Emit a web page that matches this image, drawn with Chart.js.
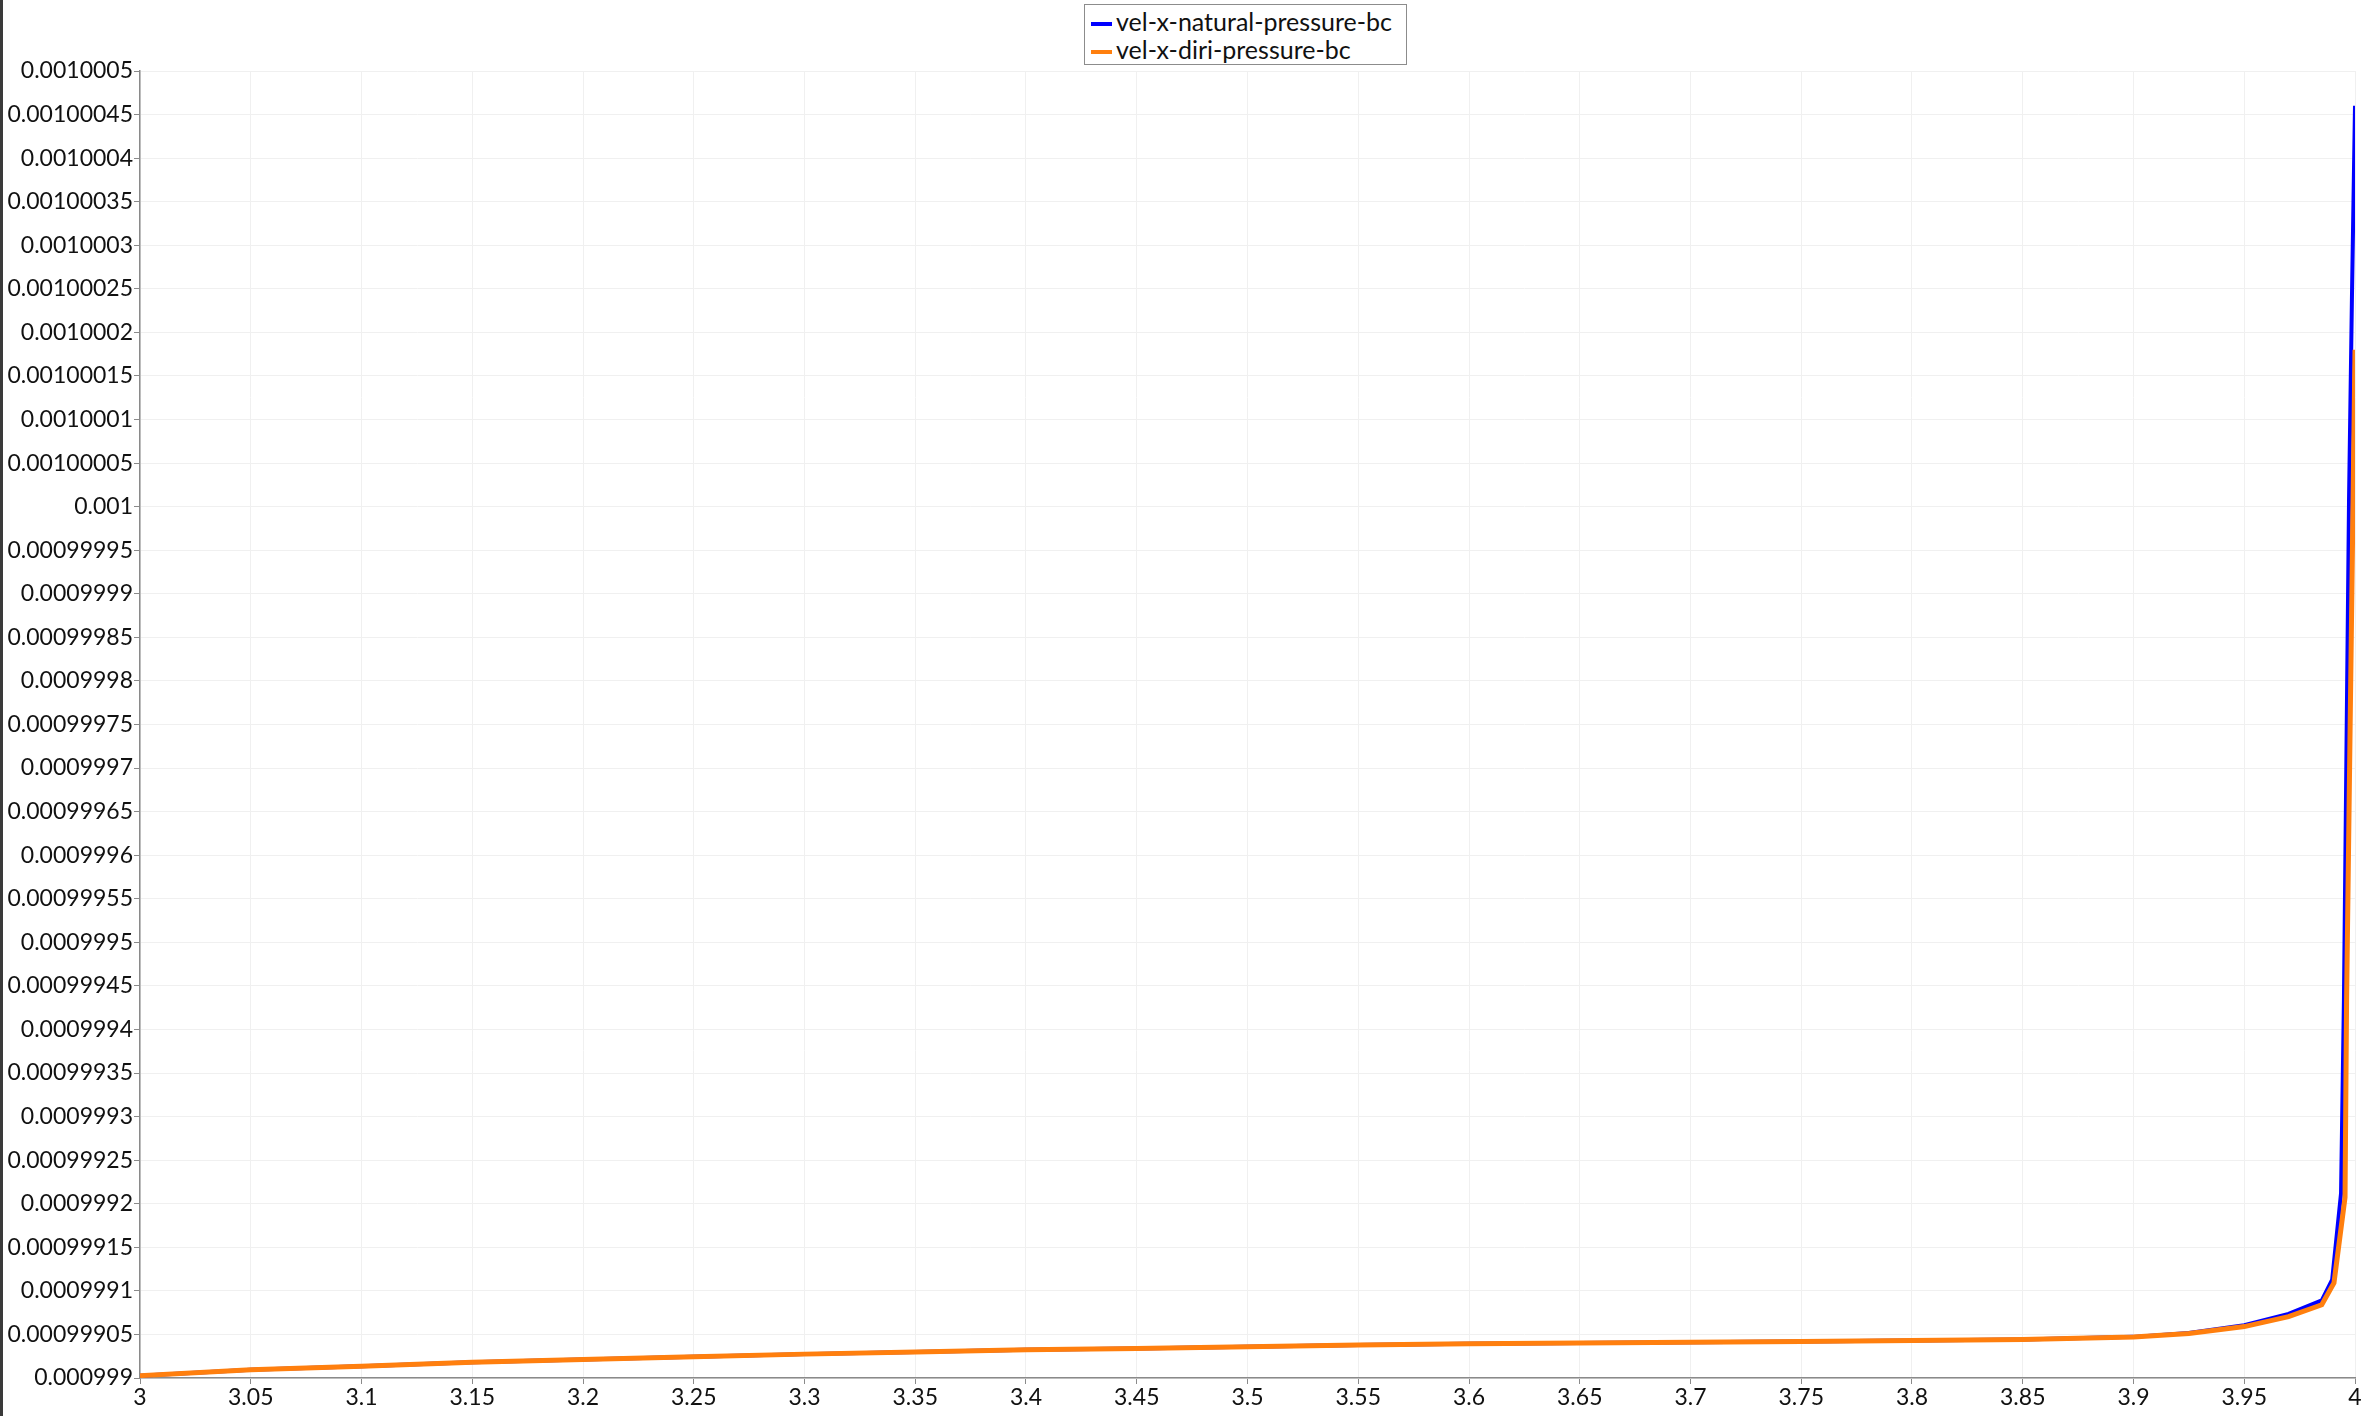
<!DOCTYPE html>
<html>
<head>
<meta charset="utf-8">
<script src="https://cdn.jsdelivr.net/npm/chart.js@4.4.1/dist/chart.umd.min.js"></script>
<style>
    html, body { margin: 0; padding: 0; background: #fff; }
    #wrap { position: relative; width: 2361px; height: 1416px; border-left: 3px solid #3a3a3a; }
    #plot { display: block; }
    #legend {
        position: absolute; left: 1081px; top: 4px; width: 321px; height: 59px;
        border: 1.5px solid #8c8c8c; background: #fff;
        font-family: Lato, 'Noto Sans', sans-serif; font-size: 25px; color: #111;
    }
    #legend .row { position: absolute; left: 6px; height: 28px; line-height: 28px; white-space: nowrap; }
    #legend .sw { display: inline-block; width: 21px; height: 4px; vertical-align: middle; margin-right: 4px; position: relative; top: -1px; }
</style>
</head>
<body>
<div id="wrap">
    <canvas id="plot" width="2361" height="1416"></canvas>
    <div id="legend"></div>
</div>
<script>
(() => {
    // ===== Datos =====
    const seriesNames = ['vel-x-natural-pressure-bc', 'vel-x-diri-pressure-bc'];
    const seriesColors = ['#0000ff', '#ff7f0e'];

    const naturalX = [3.0, 3.05, 3.1, 3.15, 3.2, 3.25, 3.3, 3.35, 3.4, 3.45, 3.5, 3.55, 3.6, 3.65, 3.7, 3.75, 3.8, 3.85, 3.9, 3.925, 3.95, 3.97, 3.985, 3.9897, 3.9937, 3.995, 3.9973, 3.9986, 4.0];
    const naturalY = [0.0009990027, 0.0009990096, 0.0009990135, 0.0009990181, 0.0009990212, 0.0009990243, 0.0009990274, 0.0009990297, 0.0009990323, 0.0009990339, 0.0009990358, 0.0009990378, 0.0009990393, 0.0009990402, 0.0009990410, 0.0009990419, 0.0009990431, 0.0009990443, 0.0009990472, 0.0009990516, 0.0009990605, 0.0009990736, 0.0009990890, 0.0009991130, 0.0009992120, 0.0009994335, 0.0010000073, 0.0010002369, 0.0010004600];

    const diriX = [3.0, 3.05, 3.1, 3.15, 3.2, 3.25, 3.3, 3.35, 3.4, 3.45, 3.5, 3.55, 3.6, 3.65, 3.7, 3.75, 3.8, 3.85, 3.9, 3.925, 3.95, 3.97, 3.985, 3.9905, 3.9955, 3.9962, 4.0];
    const diriY = [0.0009990027, 0.0009990096, 0.0009990135, 0.0009990181, 0.0009990212, 0.0009990243, 0.0009990274, 0.0009990297, 0.0009990323, 0.0009990339, 0.0009990358, 0.0009990378, 0.0009990393, 0.0009990402, 0.0009990410, 0.0009990419, 0.0009990431, 0.0009990443, 0.0009990470, 0.0009990512, 0.0009990590, 0.0009990705, 0.0009990840, 0.0009991090, 0.0009992074, 0.0009994335, 0.0010001800];

    const xTickLabels = ['3', '3.05', '3.1', '3.15', '3.2', '3.25', '3.3', '3.35', '3.4', '3.45', '3.5', '3.55', '3.6', '3.65', '3.7', '3.75', '3.8', '3.85', '3.9', '3.95', '4'];
    const yTickLabels = ['0.000999', '0.00099905', '0.0009991', '0.00099915', '0.0009992', '0.00099925', '0.0009993', '0.00099935', '0.0009994', '0.00099945', '0.0009995', '0.00099955', '0.0009996', '0.00099965', '0.0009997', '0.00099975', '0.0009998', '0.00099985', '0.0009999', '0.00099995', '0.001', '0.00100005', '0.0010001', '0.00100015', '0.0010002', '0.00100025', '0.0010003', '0.00100035', '0.0010004', '0.00100045', '0.0010005'];

    const pts = (xs, ys) => xs.map((x, i) => ({ x, y: ys[i] }));

    // ===== Leyenda HTML =====
    const lg = document.getElementById('legend');
    seriesNames.forEach((n, i) => {
        const r = document.createElement('div');
        r.className = 'row';
        r.style.top = (i * 28 + 2) + 'px';
        r.innerHTML = `<span class="sw" style="background:${seriesColors[i]}"></span>${n}`;
        lg.appendChild(r);
    });

    // ===== Chart.js =====
    Chart.defaults.animation = false;
    Chart.defaults.font.family = "Lato, 'Noto Sans', sans-serif";
    Chart.defaults.font.size = 23;
    Chart.defaults.color = '#111';
    const AXIS = '#8a8a8a', GRID = '#f0f0f0';

    new Chart(document.getElementById('plot').getContext('2d'), {
        type: 'line',
        data: {
            datasets: [
                { label: seriesNames[0], data: pts(naturalX, naturalY), borderColor: seriesColors[0], borderWidth: 4, order: 2 },
                { label: seriesNames[1], data: pts(diriX, diriY), borderColor: seriesColors[1], borderWidth: 5, order: 1 }
            ]
        },
        options: {
            responsive: false,
            elements: { point: { radius: 0 }, line: { tension: 0, borderCapStyle: 'butt', borderJoinStyle: 'miter' } },
            layout: { padding: { top: 71, right: 9, left: 0, bottom: 0 } },
            plugins: { legend: { display: false }, tooltip: { enabled: false } },
            scales: {
                x: {
                    type: 'linear', min: 3, max: 4,
                    afterBuildTicks: s => { s.ticks = xTickLabels.map(t => ({ value: Number(t) })); },
                    afterFit: s => { s.height = 38; },
                    ticks: { callback: (v, i) => xTickLabels[i], padding: 0, maxRotation: 0, autoSkip: false },
                    grid: { color: GRID, tickColor: AXIS, tickLength: 6, lineWidth: 1 },
                    border: { color: AXIS, width: 1.5 }
                },
                y: {
                    type: 'linear', min: 0.000999, max: 0.0010005,
                    afterBuildTicks: s => { s.ticks = yTickLabels.map(t => ({ value: Number(t) })); },
                    afterFit: s => { s.width = 137; },
                    ticks: { callback: (v, i) => yTickLabels[i], padding: 1, autoSkip: false },
                    grid: { color: GRID, tickColor: AXIS, tickLength: 6, lineWidth: 1 },
                    border: { color: AXIS, width: 1.5 }
                }
            }
        }
    });
})();
</script>
</body>
</html>
